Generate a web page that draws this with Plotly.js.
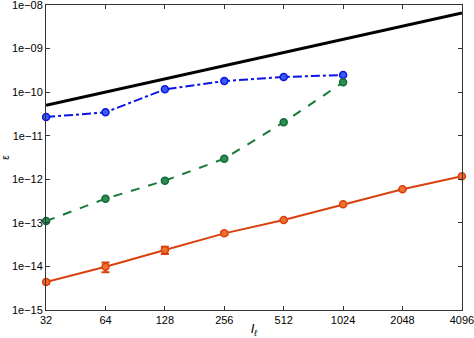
<!DOCTYPE html>
<html><head><meta charset="utf-8">
<script src="https://cdn.plot.ly/plotly-3.0.1.min.js"></script>
<style>html,body{margin:0;padding:0;background:#fff}#c{width:474px;height:338px}</style>
</head><body><div id="c"></div>
<script>
const xTicks = [32, 64, 128, 256, 512, 1024, 2048, 4096];
const yTickVals = [1e-15, 1e-14, 1e-13, 1e-12, 1e-11, 1e-10, 1e-9, 1e-8];
const yTickText = ["1e\u221215","1e\u221214","1e\u221213","1e\u221212","1e\u221211","1e\u221210","1e\u221209","1e\u221208"];

const refX = [32, 4096];
const refY = [5.0e-11, 6.6e-9];

const blueX = [32, 64, 128, 256, 512, 1024];
const blueY = [2.69e-11, 3.44e-11, 1.16e-10, 1.80e-10, 2.23e-10, 2.47e-10];

const greenX = [32, 64, 128, 256, 512, 1024];
const greenY = [1.10e-13, 3.59e-13, 9.3e-13, 2.97e-12, 2.03e-11, 1.68e-10];

const redX = [32, 64, 128, 256, 512, 1024, 2048, 4096];
const redY = [4.39e-15, 9.86e-15, 2.38e-14, 5.74e-14, 1.16e-13, 2.66e-13, 5.88e-13, 1.17e-12];
const redErr = [0.4e-15, 2.5e-15, 4.5e-15, 5e-15, 4e-15, 6e-15, 1e-14, 2e-14];

const traces = [
  {x: refX, y: refY, mode: 'lines', line: {color: '#000000', width: 3}, cliponaxis: false},
  {x: blueX, y: blueY, mode: 'lines+markers', line: {color: '#0a14e6', width: 2, dash: 'dashdot'},
   marker: {color: '#3a5cf0', size: 7, line: {color: '#0a14e6', width: 1.5}}, cliponaxis: false},
  {x: greenX, y: greenY, mode: 'lines+markers', line: {color: '#1a7a3c', width: 2, dash: 'dash'},
   marker: {color: '#2a9050', size: 7, line: {color: '#15683a', width: 1.5}}, cliponaxis: false},
  {x: redX, y: redY, mode: 'lines+markers', line: {color: '#d8400e', width: 2},
   marker: {color: '#f07030', size: 7, line: {color: '#d8400e', width: 1.5}}, cliponaxis: false,
   error_y: {type: 'data', array: redErr, visible: true, color: '#d8400e', thickness: 2, width: 4}}
];

const layout = {
  width: 474, height: 338,
  margin: {l: 46, r: 12, t: 5, b: 28},
  showlegend: false,
  paper_bgcolor: '#fff', plot_bgcolor: '#fff',
  font: {family: 'Liberation Sans, Arial, sans-serif', size: 11, color: '#000'},
  xaxis: {
    type: 'log', range: [Math.log10(32) - 0.0005, Math.log10(4096) + 0.0005],
    tickvals: xTicks, ticktext: xTicks.map(String), ticklabeloverflow: 'allow',
    ticks: 'inside', ticklen: 4, tickcolor: '#333', showgrid: false, zeroline: false,
    showline: true, linecolor: '#333', linewidth: 1, mirror: 'ticks',
    title: {text: '<i>I<sub>\u2113</sub></i>', font: {size: 13}, standoff: 2},
    tickfont: {size: 11}
  },
  yaxis: {
    type: 'log', range: [-15.0005, -7.9995],
    tickvals: yTickVals, ticktext: yTickText, ticklabeloverflow: 'allow',
    ticks: 'inside', ticklen: 4, tickcolor: '#333', showgrid: false, zeroline: false,
    showline: true, linecolor: '#333', linewidth: 1, mirror: 'ticks',
    title: {text: '\u03b5', font: {size: 10}, standoff: 4},
    tickfont: {size: 11}
  }
};
Plotly.newPlot('c', traces, layout, {displayModeBar: false, staticPlot: true});
</script>
</body></html>
